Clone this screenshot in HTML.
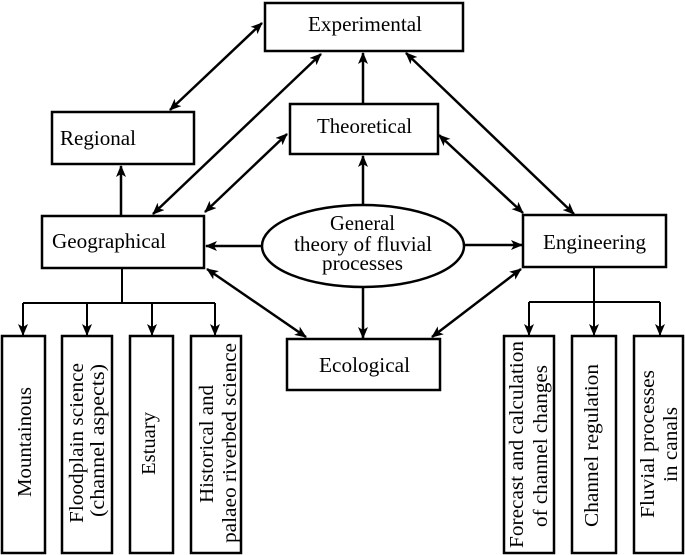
<!DOCTYPE html>
<html><head><meta charset="utf-8"><style>
html,body{margin:0;padding:0;background:#fff;}
svg{display:block;}
text{font-family:"Liberation Serif",serif;fill:#000;}
</style></head><body>
<svg width="685" height="555" viewBox="0 0 685 555" xmlns="http://www.w3.org/2000/svg">
<defs>
<marker id="a" viewBox="0 0 12 10" refX="11" refY="5" markerWidth="12" markerHeight="10" markerUnits="userSpaceOnUse" orient="auto-start-reverse">
<path d="M0,0 L12,5 L0,10 L3,5 Z" fill="#000"/>
</marker>
</defs>
<g fill="none" stroke="#000" stroke-width="2.5">
<rect x="265" y="3" width="198" height="48"/>
<rect x="52" y="112" width="142" height="52"/>
<rect x="290" y="104" width="148" height="50"/>
<rect x="42" y="216" width="162" height="52"/>
<rect x="523" y="215" width="143" height="52"/>
<rect x="287" y="339" width="153" height="51"/>
<ellipse cx="363" cy="246" rx="101" ry="41"/>
<rect x="2" y="336" width="43" height="217"/>
<rect x="62" y="336" width="50" height="217"/>
<rect x="130" y="336" width="43" height="217"/>
<rect x="191" y="336" width="50" height="217"/>
<rect x="504" y="336" width="50" height="217"/>
<rect x="572" y="336" width="44" height="217"/>
<rect x="634" y="336" width="49" height="217"/>
</g>
<g stroke="#000" stroke-width="2.5" fill="none">
<line x1="262" y1="23" x2="170" y2="110" marker-start="url(#a)" marker-end="url(#a)"/>
<line x1="321" y1="54" x2="153" y2="214" marker-start="url(#a)" marker-end="url(#a)"/>
<line x1="406" y1="53" x2="574" y2="214" marker-start="url(#a)" marker-end="url(#a)"/>
<line x1="287" y1="134" x2="205" y2="212" marker-start="url(#a)" marker-end="url(#a)"/>
<line x1="439" y1="135" x2="523" y2="213" marker-start="url(#a)" marker-end="url(#a)"/>
<line x1="207" y1="269" x2="306" y2="337" marker-start="url(#a)" marker-end="url(#a)"/>
<line x1="521" y1="269" x2="432" y2="337" marker-start="url(#a)" marker-end="url(#a)"/>
<line x1="363" y1="104" x2="363" y2="53" marker-end="url(#a)"/>
<line x1="363" y1="205" x2="363" y2="156" marker-end="url(#a)"/>
<line x1="262" y1="246" x2="206" y2="246" marker-end="url(#a)"/>
<line x1="464" y1="245" x2="522" y2="245" marker-end="url(#a)"/>
<line x1="363" y1="287" x2="363" y2="338" marker-end="url(#a)"/>
<line x1="121" y1="216" x2="121" y2="166" marker-end="url(#a)"/>
</g>
<g stroke="#000" stroke-width="2" fill="none">
<line x1="122" y1="268" x2="122" y2="303"/>
<line x1="23" y1="303" x2="215" y2="303"/>
<line x1="23" y1="303" x2="23" y2="335" marker-end="url(#a)"/>
<line x1="87" y1="303" x2="87" y2="335" marker-end="url(#a)"/>
<line x1="152" y1="303" x2="152" y2="335" marker-end="url(#a)"/>
<line x1="215" y1="303" x2="215" y2="335" marker-end="url(#a)"/>
<line x1="594" y1="267" x2="594" y2="302"/>
<line x1="529" y1="302" x2="660" y2="302"/>
<line x1="529" y1="302" x2="529" y2="335" marker-end="url(#a)"/>
<line x1="594" y1="302" x2="594" y2="335" marker-end="url(#a)"/>
<line x1="660" y1="302" x2="660" y2="335" marker-end="url(#a)"/>
</g>
<g font-size="21" lengthAdjust="spacingAndGlyphs">
<text x="308" y="31" textLength="114" lengthAdjust="spacingAndGlyphs">Experimental</text>
<text x="60" y="145" textLength="76" lengthAdjust="spacingAndGlyphs">Regional</text>
<text x="317" y="133" textLength="95" lengthAdjust="spacingAndGlyphs">Theoretical</text>
<text x="52" y="248" textLength="114" lengthAdjust="spacingAndGlyphs">Geographical</text>
<text x="543" y="249" textLength="103" lengthAdjust="spacingAndGlyphs">Engineering</text>
<text x="319" y="372" textLength="91" lengthAdjust="spacingAndGlyphs">Ecological</text>
<text x="330" y="230" textLength="65" lengthAdjust="spacingAndGlyphs">General</text>
<text x="294" y="251" textLength="138" lengthAdjust="spacingAndGlyphs">theory of fluvial</text>
<text x="322" y="270" textLength="81" lengthAdjust="spacingAndGlyphs">processes</text>
</g>
<g font-size="20">
<text transform="translate(31,497) rotate(-90)" textLength="110" lengthAdjust="spacingAndGlyphs">Mountainous</text>
<text transform="translate(83,523) rotate(-90)" textLength="160" lengthAdjust="spacingAndGlyphs">Floodplain science</text>
<text transform="translate(104,517) rotate(-90)" textLength="153" lengthAdjust="spacingAndGlyphs">(channel aspects)</text>
<text transform="translate(155,475) rotate(-90)" textLength="63" lengthAdjust="spacingAndGlyphs">Estuary</text>
<text transform="translate(213,503) rotate(-90)" textLength="118" lengthAdjust="spacingAndGlyphs">Historical and</text>
<text transform="translate(236,543) rotate(-90)" textLength="200" lengthAdjust="spacingAndGlyphs">palaeo riverbed science</text>
<text transform="translate(523,548) rotate(-90)" textLength="207" lengthAdjust="spacingAndGlyphs">Forecast and calculation</text>
<text transform="translate(547,527) rotate(-90)" textLength="162" lengthAdjust="spacingAndGlyphs">of channel changes</text>
<text transform="translate(598,527) rotate(-90)" textLength="163" lengthAdjust="spacingAndGlyphs">Channel regulation</text>
<text transform="translate(654,518) rotate(-90)" textLength="148" lengthAdjust="spacingAndGlyphs">Fluvial processes</text>
<text transform="translate(677,482) rotate(-90)" textLength="75" lengthAdjust="spacingAndGlyphs">in canals</text>
</g>
</svg>
</body></html>
